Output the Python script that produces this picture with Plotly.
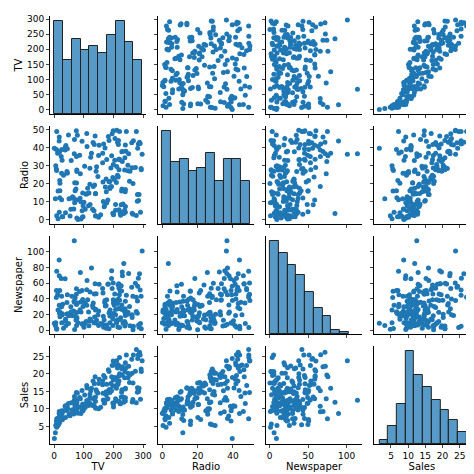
import plotly.graph_objects as go
from plotly.subplots import make_subplots

TV = [230.1,44.5,17.2,151.5,180.8,8.7,57.5,120.2,8.6,199.8,66.1,214.7,23.8,97.5,204.1,195.4,67.8,281.4,69.2,147.3,218.4,237.4,13.2,228.3,62.3,262.9,142.9,240.1,248.8,70.6,292.9,112.9,97.2,265.6,95.7,290.7,266.9,74.7,43.1,228,202.5,177,293.6,206.9,25.1,175.1,89.7,239.9,227.2,66.9,199.8,100.4,216.4,182.6,262.7,198.9,7.3,136.2,210.8,210.7,53.5,261.3,239.3,102.7,131.1,69,31.5,139.3,237.4,216.8,199.1,109.8,26.8,129.4,213.4,16.9,27.5,120.5,5.4,116,76.4,239.8,75.3,68.4,213.5,193.2,76.3,110.7,88.3,109.8,134.3,28.6,217.7,250.9,107.4,163.3,197.6,184.9,289.7,135.2,222.4,296.4,280.2,187.9,238.2,137.9,25,90.4,13.1,255.4,225.8,241.7,175.7,209.6,78.2,75.1,139.2,76.4,125.7,19.4,141.3,18.8,224,123.1,229.5,87.2,7.8,80.2,220.3,59.6,0.7,265.2,8.4,219.8,36.9,48.3,25.6,273.7,43,184.9,73.4,193.7,220.5,104.6,96.2,140.3,240.1,243.2,38,44.7,280.7,121,197.6,171.3,187.8,4.1,93.9,149.8,11.7,131.7,172.5,85.7,188.4,163.5,117.2,234.5,17.9,206.8,215.4,284.3,50,164.5,19.6,168.4,222.4,276.9,248.4,170.2,276.7,165.6,156.6,218.5,56.2,287.6,253.8,205,139.5,191.1,286,18.7,39.5,75.5,17.2,166.8,149.7,38.2,94.2,177,283.6,232.1]
Radio = [37.8,39.3,45.9,41.3,10.8,48.9,32.8,19.6,2.1,2.6,5.8,24,35.1,7.6,32.9,47.7,36.6,39.6,20.5,23.9,27.7,5.1,15.9,16.9,12.6,3.5,29.3,16.7,27.1,16,28.3,17.4,1.5,20,1.4,4.1,43.8,49.4,26.7,37.7,22.3,33.4,27.7,8.4,25.7,22.5,9.9,41.5,15.8,11.7,3.1,9.6,41.7,46.2,28.8,49.4,28.1,19.2,49.6,29.5,2,42.7,15.5,29.6,42.8,9.3,24.6,14.5,27.5,43.9,30.6,14.3,33,5.7,24.6,43.7,1.6,28.5,29.9,7.7,26.7,4.1,20.3,44.5,43,18.4,27.5,40.6,25.5,47.8,4.9,1.5,33.5,36.5,14,31.6,3.5,21,42.3,41.7,4.3,36.3,10.1,17.2,34.3,46.4,11,0.3,0.4,26.9,8.2,38,15.4,20.6,46.8,35,14.3,0.8,36.9,16,26.8,21.7,2.4,34.6,32.3,11.8,38.9,0,49,12,39.6,2.9,27.2,33.5,38.6,47,39,28.9,25.9,43.9,17,35.4,33.2,5.7,14.8,1.9,7.3,49,40.3,25.8,13.9,8.4,23.3,39.7,21.1,11.6,43.5,1.3,36.9,18.4,18.1,35.8,18.1,36.8,14.7,3.4,37.6,5.2,23.6,10.6,11.6,20.9,20.1,7.1,3.4,48.9,30.2,7.8,2.3,10,2.6,5.4,5.7,43,21.3,45.1,2.1,28.7,13.9,12.1,41.1,10.8,4.1,42,35.6,3.7,4.9,9.3,42,8.6]
Newspaper = [69.2,45.1,69.3,58.5,58.4,75,23.5,11.6,1,21.2,24.2,4,65.9,7.2,46,52.9,114,55.8,18.3,19.1,53.4,23.5,49.6,26.2,18.3,19.5,12.6,22.9,22.9,40.8,43.2,38.6,30,0.3,7.4,8.5,5,45.7,35.1,32,31.6,38.7,1.8,26.4,43.3,31.5,35.7,18.5,49.9,36.8,34.6,3.6,39.6,58.7,15.9,60,41.4,16.6,37.7,9.3,21.4,54.7,27.3,8.4,28.9,0.9,2.2,10.2,11,27.2,38.7,31.7,19.3,31.3,13.1,89.4,20.7,14.2,9.4,23.1,22.3,36.9,32.5,35.6,33.8,65.7,16,63.2,73.4,51.4,9.3,33,59,72.3,10.9,52.9,5.9,22,51.2,45.9,49.8,100.9,21.4,17.9,5.3,59,29.7,23.2,25.6,5.5,56.5,23.2,2.4,10.7,34.5,52.7,25.6,14.8,79.2,22.3,46.2,50.4,15.6,12.4,74.2,25.9,50.6,9.2,3.2,43.1,8.7,43,2.1,45.1,65.6,8.5,9.3,59.7,20.5,1.7,12.9,75.6,37.9,34.4,38.9,9,8.7,44.3,11.9,20.6,37,48.7,14.2,37.7,9.5,5.7,50.5,24.3,45.2,34.6,30.7,49.3,25.6,7.4,5.4,84.8,21.6,19.4,57.6,6.4,18.4,47.4,17,12.8,13.1,41.8,20.3,35.2,23.7,17.6,8.3,27.4,29.7,71.8,30,19.6,26.6,18.2,3.7,23.4,5.8,6,31.6,3.6,6,13.8,8.1,6.4,66.2,8.7]
Sales = [22.1,10.4,9.3,18.5,12.9,7.2,11.8,13.2,4.8,10.6,8.6,17.4,9.2,9.7,19,22.4,12.5,24.4,11.3,14.6,18,12.5,5.6,15.5,9.7,12,15,15.9,18.9,10.5,21.4,11.9,9.6,17.4,9.5,12.8,25.4,14.7,10.1,21.5,16.6,17.1,20.7,12.9,8.5,14.9,10.6,23.2,14.8,9.7,11.4,10.7,22.6,21.2,20.2,23.7,5.5,13.2,23.8,18.4,8.1,24.2,15.7,14,18,9.3,9.5,13.4,18.9,22.3,18.3,12.4,8.8,11,17,8.7,6.9,14.2,5.3,11,11.8,12.3,11.3,13.6,21.7,15.2,12,16,12.9,16.7,11.2,7.3,19.4,22.2,11.5,16.9,11.7,15.5,25.4,17.2,11.7,23.8,14.8,14.7,20.7,19.2,7.2,8.7,5.3,19.8,13.4,21.8,14.1,15.9,14.6,12.6,12.2,9.4,15.9,6.6,15.5,7,11.6,15.2,19.7,10.6,6.6,8.8,24.7,9.7,1.6,12.7,5.7,19.6,10.8,11.6,9.5,20.8,9.6,20.7,10.9,19.2,20.1,10.4,11.4,10.3,13.2,25.4,10.9,10.1,16.1,11.6,16.6,19,15.6,3.2,15.3,10.1,7.3,12.9,14.4,13.3,14.9,18,11.9,11.9,8,12.2,17.1,15,8.4,14.5,7.6,11.7,11.5,27,20.2,11.7,11.8,12.6,10.5,12.2,8.7,26.2,17.6,22.6,10.3,17.3,15.9,6.7,10.8,9.9,5.9,19.6,17.3,7.6,9.7,12.8,25.5,13.4]

names = ["TV", "Radio", "Newspaper", "Sales"]
n = min(len(TV), len(Radio), len(Newspaper), len(Sales))
cols = [TV[:n], Radio[:n], Newspaper[:n], Sales[:n]]
ranges = [[-14, 310], [-2.5, 52], [-5, 120], [0, 28]]
ytickvals = [[0,50,100,150,200,250,300],[0,10,20,30,40,50],[0,20,40,60,80,100],[5,10,15,20,25]]
xtickvals = [[0,100,200,300],[0,20,40],[0,50,100],[5,10,15,20,25]]

fig = make_subplots(rows=4, cols=4, horizontal_spacing=0.028, vertical_spacing=0.028)
blue = "#1f77b4"
for i in range(4):
    for j in range(4):
        r, c = i + 1, j + 1
        if i == j:
            lo, hi = min(cols[j]), max(cols[j])
            fig.add_trace(go.Histogram(x=cols[j], xbins=dict(start=lo, end=hi + 1e-6, size=(hi - lo) / 10),
                                       marker=dict(color="rgba(31,119,180,0.75)", line=dict(color="#222", width=1)),
                                       showlegend=False), row=r, col=c)
            fig.update_yaxes(showticklabels=False, ticks="", showline=(i != 0), row=r, col=c)
        else:
            fig.add_trace(go.Scatter(x=cols[j], y=cols[i], mode="markers",
                                     marker=dict(color=blue, size=5), showlegend=False), row=r, col=c)
            fig.update_yaxes(range=ranges[i], row=r, col=c,
                             showticklabels=(j == 0), tickvals=ytickvals[i])
        fig.update_xaxes(range=ranges[j], row=r, col=c, showticklabels=(i == 3), tickvals=xtickvals[j])
        if j == 0:
            fig.update_yaxes(title_text=names[i], row=r, col=c)
        if i == 3:
            fig.update_xaxes(title_text=names[j], row=r, col=c)

fig.update_xaxes(showgrid=False, zeroline=False, showline=True, linecolor="black", linewidth=1,
                 ticks="outside", ticklen=3, tickfont=dict(size=9), title_font=dict(size=10), title_standoff=2)
fig.update_yaxes(showgrid=False, zeroline=False, linecolor="black", linewidth=1,
                 tickfont=dict(size=9), title_font=dict(size=10), title_standoff=2)
for i in range(4):
    for j in range(4):
        if i != j:
            fig.update_yaxes(showline=True, ticks="outside", ticklen=3, row=i+1, col=j+1)

# TV tick axis for the top-left (histogram) cell
d = fig.layout.yaxis.domain
fig.update_layout(yaxis17=dict(domain=d, anchor="x", overlaying="y", range=ranges[0], tickvals=ytickvals[0],
                               showline=True, linecolor="black", ticks="outside", ticklen=3,
                               tickfont=dict(size=9), showgrid=False, zeroline=False,
                               title=dict(text="TV", font=dict(size=10), standoff=2)))
fig.add_trace(go.Scatter(x=[], y=[], xaxis="x", yaxis="y17", showlegend=False))
fig.update_yaxes(title_text="", row=1, col=1)

fig.update_layout(width=474, height=474, margin=dict(l=42, r=8, t=6, b=38),
                  plot_bgcolor="white", paper_bgcolor="white", bargap=0,
                  font=dict(family="DejaVu Sans", color="black"))
fig.write_html("out.html")
